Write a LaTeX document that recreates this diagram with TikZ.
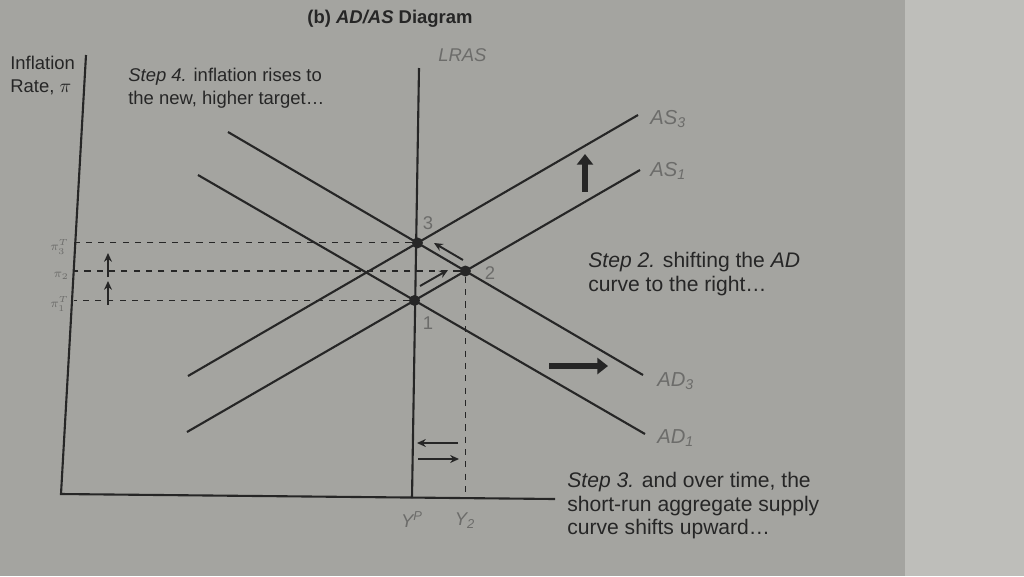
\documentclass[tikz,border=0pt]{standalone}
\usepackage{fontspec}
\setmainfont{Liberation Sans}
\usetikzlibrary{arrows.meta}

\definecolor{paper}{RGB}{164,164,160}
\definecolor{edge}{RGB}{190,190,186}
\definecolor{ink}{RGB}{38,38,38}
\definecolor{faint}{RGB}{108,108,106}

\begin{document}
\begin{tikzpicture}[x=0.02cm, y=-0.02cm,
  every node/.style={font=\fontsize{10.5}{13}\selectfont, text=ink, inner sep=0pt},
  curve/.style={ink, line width=1.2pt},
  guide/.style={ink, line width=0.6pt, dash pattern=on 3.5pt off 3.5pt},
  dot/.style={circle, fill=ink, minimum size=0.22cm},
  lab/.style={text=faint, font=\fontsize{10.5}{13}\selectfont\itshape},
  biglab/.style={lab, font=\fontsize{11.5}{13}\selectfont\itshape},
  note/.style={anchor=north west, align=left, font=\fontsize{12}{13.4}\selectfont},
  move/.style={ink, line width=1.1pt, -{Stealth[length=5pt,width=4.5pt]}},
  bigmove/.style={ink, line width=3.5pt, -{Triangle[length=6pt,width=9pt]}}]

    % paper
    \fill[paper] (0,0) rectangle (1024,576);
    \fill[edge] (905,0) rectangle (1024,576);

    % axes and long-run supply
    \coordinate (ytop) at (86,55);
    \coordinate (orig) at (61,494);
    \coordinate (xend) at (555,499);
    \coordinate (yax) at (74,270);
    \draw[curve] (ytop) -- (orig) -- (xend);
    \coordinate (lrtop) at (419,68);
    \coordinate (lrbot) at (412,498);
    \draw[curve] (lrtop) -- (lrbot);

    % demand and supply curves
    \coordinate (ad1a) at (198,175);  \coordinate (ad1b) at (645,434);
    \coordinate (ad3a) at (228,132);  \coordinate (ad3b) at (643,375);
    \coordinate (as1a) at (187,432);  \coordinate (as1b) at (640,170);
    \coordinate (as3a) at (188,376);  \coordinate (as3b) at (638,115);
    \foreach \a/\b in {ad1a/ad1b, ad3a/ad3b, as1a/as1b, as3a/as3b}
    \draw[curve] (\a) -- (\b);

    % equilibria
    \node[dot] (p1) at (intersection of ad1a--ad1b and as1a--as1b) {};
    \node[dot] (p2) at (intersection of ad3a--ad3b and as1a--as1b) {};
    \node[dot] (p3) at (intersection of ad3a--ad3b and as3a--as3b) {};

    \foreach \p in {p1,p2,p3}
    \draw[guide] (\p) -- (\p -| yax);
    \draw[guide] (p2) -- (p2 |- xend);

    \node[text=faint] (n3) at (428,223) {3};
    \node[text=faint] (n2) at (490,273) {2};
    \node[text=faint] (n1) at (428,323) {1};

    % inflation levels
    \node[text=faint, font=\fontsize{7.5}{8}\selectfont, anchor=east] (pi3) at (69,247) {$\pi^T_3$};
    \node[text=faint, font=\fontsize{7.5}{8}\selectfont, anchor=east] (pi2) at (69,276) {$\pi_2$};
    \node[text=faint, font=\fontsize{7.5}{8}\selectfont, anchor=east] (pi1) at (69,304) {$\pi^T_1$};

    % shifts
    \draw[move, line width=1.4pt] (108,277) -- (108,253);
    \draw[move, line width=1.4pt] (108,305) -- (108,281);
    \draw[move] (420,286) -- (448,270);
    \draw[move] (463,260) -- (434,243);
    \draw[move] (458,443) -- (417,443);
    \draw[move] (418,459) -- (459,459);
    \draw[bigmove] (585,192) -- (585,154);
    \draw[bigmove] (549,366) -- (608,366);

    % labels
    \node[lab, anchor=west] (lras) at (438,55) {LRAS};
    \node[biglab, anchor=west] (las3) at (650,119) {AS\textsubscript{3}};
    \node[biglab, anchor=west] (las1) at (650,171) {AS\textsubscript{1}};
    \node[biglab, anchor=west] (lad3) at (657,381) {AD\textsubscript{3}};
    \node[biglab, anchor=west] (lad1) at (657,438) {AD\textsubscript{1}};
    \node[lab] (yp) at (412,520) {Y\textsuperscript{P}};
    \node[lab] (y2) at (465,521) {Y\textsubscript{2}};

    \node (title) at (390,19) {\bfseries (b) \textit{AD/AS} Diagram};
    \node[anchor=north west, align=left] (ylab) at (10,56)
      {Inflation\\Rate, $\pi$};

    \node[anchor=north west, align=left] (step4) at (128,68)
      {\textit{Step 4.} inflation rises to\\the new, higher target\dots};
    \node[note] (step2) at (588,252)
      {\textit{Step 2.} shifting the \textit{AD}\\curve to the right\dots};
    \node[note] (step3) at (567,472)
      {\textit{Step 3.} and over time, the\\short-run aggregate supply\\curve shifts upward\dots};

\end{tikzpicture}
\end{document}
